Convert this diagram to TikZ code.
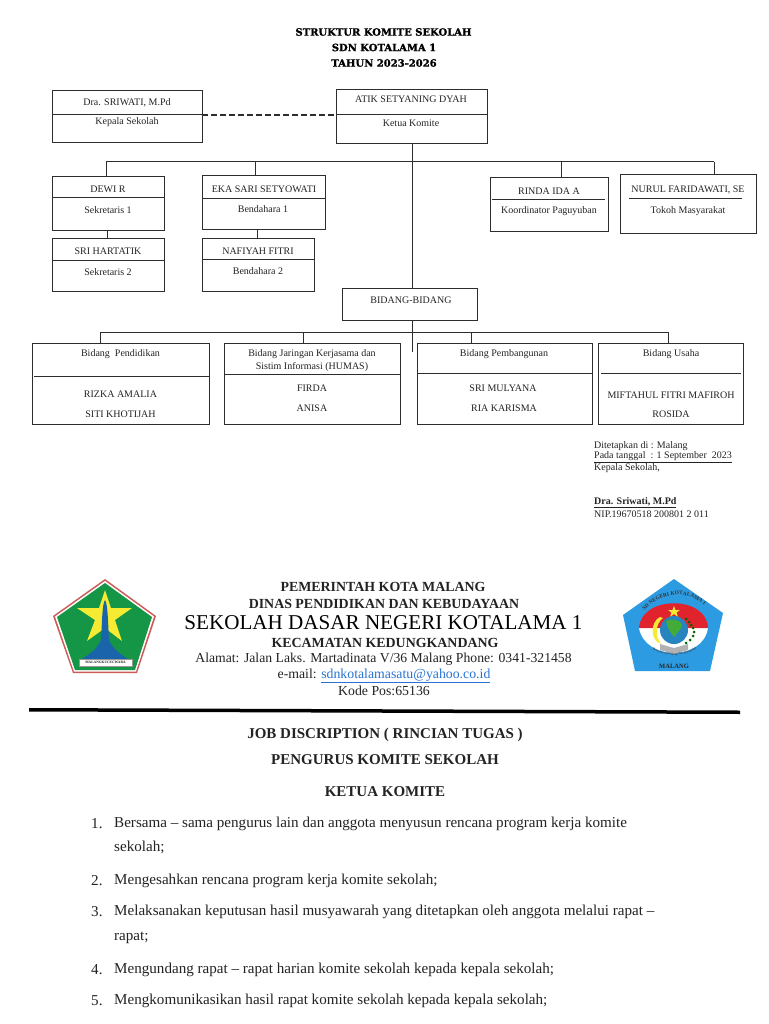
\documentclass[tikz,border=0pt]{standalone}
\usepackage{fontspec}
\setmainfont{Liberation Serif}
\newfontfamily\titlefont[BoldFeatures={FakeBold=1.2}]{DejaVu Serif}
\usetikzlibrary{decorations.text}

\begin{document}
\begin{tikzpicture}[x=1pt,y=-1pt,line cap=butt,line join=miter,
  orgbox/.style={draw=lineGrey,line width=1pt,outer sep=0pt,inner sep=0pt,yshift=-.5pt},
  boxtext/.style={text=inkGrey,font=\fontsize{10}{11}\selectfont,inner sep=0pt,yshift=-1pt},
  headtext/.style={text=inkGrey,font=\fontsize{10}{12}\selectfont,inner sep=0pt,yshift=-1pt},
  signtext/.style={text=inkGrey,font=\fontsize{10}{11}\selectfont,inner sep=0pt,anchor=west},
  listtext/.style={text=inkGrey,font=\fontsize{15.1}{17}\selectfont,inner sep=0pt,anchor=west,yshift=-1.5pt},
  titletext/.style={inner sep=0pt,font=\titlefont\bfseries\fontsize{10}{11}\selectfont},
  wire/.style={draw=lineGrey,line width=1pt}]

\definecolor{lineGrey}{RGB}{45,45,45}
\definecolor{inkGrey}{RGB}{35,35,35}
\definecolor{malangGreen}{RGB}{20,150,70}
\definecolor{malangRed}{RGB}{205,90,85}
\definecolor{malangBlue}{RGB}{25,100,170}
\definecolor{starYellow}{RGB}{245,235,50}
\definecolor{sdBlue}{RGB}{45,155,225}
\definecolor{sdRed}{RGB}{225,35,45}
\definecolor{mailBlue}{RGB}{40,115,210}

\path[use as bounding box,fill=white] (0,0) rectangle (768,1024);

% title
\node[titletext] (title1) at (383.5,32) {STRUKTUR KOMITE SEKOLAH};
\node[titletext] (title2) at (384,47.5) {SDN KOTALAMA 1};
\node[titletext] (title3) at (384,63) {TAHUN 2023-2026};

% top boxes
\node[orgbox,minimum width=150pt,minimum height=52pt] (kepala) at (127,116) {};
\node[orgbox,minimum width=151pt,minimum height=54pt] (ketua) at (411.5,116) {};
\draw[wire] (52,115) -- (202,115);
\draw[wire] (336,115) -- (487,115);
\node[boxtext] (kepalaName) at (127,102) {Dra. SRIWATI, M.Pd};
\node[boxtext] (kepalaRole) at (127,121) {Kepala Sekolah};
\node[boxtext] (ketuaName) at (411,98) {ATIK SETYANING DYAH};
\node[boxtext] (ketuaRole) at (411,122) {Ketua Komite};
\draw[lineGrey,line width=1.6pt,dash pattern=on 6pt off 3pt] (kepala.east |- 0,115) -- (ketua.west |- 0,115);

% second row
\node[orgbox,minimum width=112pt,minimum height=54pt] (dewi) at (108,203) {};
\node[orgbox,minimum width=123pt,minimum height=54pt] (eka) at (263.5,202) {};
\node[orgbox,minimum width=112pt,minimum height=53pt] (hartatik) at (108,264.5) {};
\node[orgbox,minimum width=112pt,minimum height=53pt] (nafiyah) at (258,264.5) {};
\node[orgbox,minimum width=118pt,minimum height=54pt] (rinda) at (549,204) {};
\node[orgbox,minimum width=136pt,minimum height=59pt] (nurul) at (688,203.5) {};
\draw[wire] (52,198) -- (164,198);
\draw[wire] (202,199) -- (325,199);
\draw[wire] (52,260) -- (164,260);
\draw[wire] (202,259) -- (314,259);
\draw[wire] (492,200) -- (605,200);
\draw[wire] (629,199) -- (742,199);
\node[boxtext] (dewiName) at (108,188) {DEWI R};
\node[boxtext] (dewiRole) at (108,209) {Sekretaris 1};
\node[boxtext] (ekaName) at (264,188) {EKA SARI SETYOWATI};
\node[boxtext] (ekaRole) at (263,208) {Bendahara 1};
\node[boxtext] (hartatikName) at (108,250) {SRI HARTATIK};
\node[boxtext] (hartatikRole) at (108,271) {Sekretaris 2};
\node[boxtext] (nafiyahName) at (258,250) {NAFIYAH FITRI};
\node[boxtext] (nafiyahRole) at (258,270) {Bendahara 2};
\node[boxtext] (rindaName) at (549,190) {RINDA IDA A};
\node[boxtext] (rindaRole) at (549,210) {Koordinator Paguyuban};
\node[boxtext] (nurulName) at (688,189) {NURUL FARIDAWATI, SE};
\node[boxtext] (nurulRole) at (688,210) {Tokoh Masyarakat};

% connectors second row
\coordinate (busLeft) at (106,162);
\coordinate (busRight) at (714,162);
\draw[wire] (busLeft) -- (busRight);
\draw[wire] (busLeft) -- (busLeft |- dewi.north);
\draw[wire] (255,162) -- (255,175);
\draw[wire] (561,162) -- (561,177);
\draw[wire] (busRight) -- (busRight |- nurul.north);
\draw[wire] (107,230) -- (107,238);
\draw[wire] (257,229) -- (257,238);

% bidang
\node[orgbox,minimum width=135pt,minimum height=32pt] (bidang) at (409.5,304) {};
\node[boxtext] (bidangName) at (411,299) {BIDANG-BIDANG};
\draw[wire] (412,143) -- (412,288);
\coordinate (stemEnd) at (412,352);
\draw[wire] (412,320) -- (stemEnd);

% field boxes
\node[orgbox,minimum width=177pt,minimum height=81pt] (pendidikan) at (120.5,383.5) {};
\node[orgbox,minimum width=176pt,minimum height=81pt] (jaringan) at (312,383.5) {};
\node[orgbox,minimum width=175pt,minimum height=81pt] (pembangunan) at (504.5,383.5) {};
\node[orgbox,minimum width=145pt,minimum height=81pt] (usaha) at (670.5,383.5) {};
\draw[wire] (34,376) -- (209,376);
\draw[wire] (224,374) -- (400,374);
\draw[wire] (417,373) -- (592,373);
\draw[wire] (601,373) -- (741,373);
\node[boxtext] (pendidikanHead) at (120.5,353) {Bidang \ Pendidikan};
\node[boxtext] (rizka) at (120.5,393) {RIZKA AMALIA};
\node[boxtext] (siti) at (120.5,413) {SITI KHOTIJAH};
\node[boxtext] (jaringanHead) at (312,353) {Bidang Jaringan Kerjasama dan};
\node[boxtext] (jaringanHeadB) at (312,366.5) {Sistim Informasi (HUMAS)};
\node[boxtext] (firda) at (312,387) {FIRDA};
\node[boxtext] (anisa) at (312,407) {ANISA};
\node[boxtext] (pembangunanHead) at (504,353) {Bidang Pembangunan};
\node[boxtext] (mulyana) at (503,387) {SRI MULYANA};
\node[boxtext] (karisma) at (504,407) {RIA KARISMA};
\node[boxtext] (usahaHead) at (671,353) {Bidang Usaha};
\node[boxtext] (miftahul) at (671,394) {MIFTAHUL FITRI MAFIROH};
\node[boxtext] (rosida) at (671,413) {ROSIDA};

% connectors field row
\coordinate (fieldLeft) at (100,332);
\coordinate (fieldRight) at (668,332);
\draw[wire] (fieldLeft) -- (fieldRight);
\draw[wire] (fieldLeft) -- (fieldLeft |- pendidikan.north);
\draw[wire] (303,332) -- (303,343);
\draw[wire] (471,332) -- (471,343);
\draw[wire] (fieldRight) -- (fieldRight |- usaha.north);

% signature
\node[signtext] (signPlace) at (594,446) {Ditetapkan di : Malang};
\node[signtext] (signDate) at (594,457) {\underline{Pada tanggal \ : 1 September \ 2023}};
\node[signtext] (signRole) at (594,468) {Kepala Sekolah,};
\node[signtext] (signName) at (594,503) {\underline{\textbf{Dra. Sriwati, M.Pd}}};
\node[signtext] (signNip) at (594,514) {NIP.19670518 200801 2 011};

% left logo
\fill[malangRed] (105,579) -- (156,616) -- (137,673) -- (73,673) -- (53,616) -- cycle;
\fill[white] (105,581) -- (154,616.5) -- (136,671.5) -- (74,671.5) -- (55,616.5) -- cycle;
\fill[malangGreen] (105,583) -- (152,617) -- (135,670) -- (75,670) -- (57,617) -- cycle;
\fill[starYellow] (105,590) -- (111,608) -- (132,608) -- (115,620) -- (122,641)
  -- (105,628) -- (87,641) -- (95,620) -- (77,608) -- (99,608) -- cycle;
\fill[malangBlue] (105,600) .. controls (108,604) and (108,625) .. (109,640)
  .. controls (112,648) and (120,654) .. (128,659) -- (82,659)
  .. controls (90,654) and (98,648) .. (101,640) .. controls (102,625) and (102,604) .. (105,600) -- cycle;
\fill[white,draw=lineGrey!50,line width=.3pt] (79,659) rectangle (132,666);
\node[inner sep=0pt,text=inkGrey,font=\bfseries\fontsize{3.6}{4}\selectfont] (logoBanner) at (105.5,662.5) {MALANGKUCECWARA};

% right logo
\fill[sdBlue] (674,579) -- (723,613) -- (710,671) -- (635,671) -- (623,615) -- cycle;
\fill[white] (639,628) .. controls (645,661) and (703,661) .. (708,628) -- cycle;
\fill[sdRed] (639,628) .. controls (641,595) and (707,595) .. (708,628) -- cycle;
\fill[starYellow] (674,606) -- (675.5,610) -- (680,610) -- (676.5,612.5) -- (678,617)
  -- (674,614) -- (670,617) -- (671.5,612.5) -- (668,610) -- (672.5,610) -- cycle;
\fill[starYellow] (660,617) .. controls (651,621) and (649,640) .. (661,644)
  .. controls (655,636) and (655,624) .. (663,618) -- cycle;
\foreach \bx/\by in {686/619,689/622,691/625,693/628,694/632,693/636,690/640,686/643}
  \fill[black!60!green] (\bx,\by) circle (1.5);
\fill[sdBlue!85!black] (674,630) circle (14);
\fill[malangGreen!80!yellow] (666,621) .. controls (672,618) and (681,620) .. (682,625)
  .. controls (681,631) and (676,632) .. (675,637) .. controls (671,634) and (668,630) .. (666,621) -- cycle;
\fill[black!30] (660,644) -- (674,648) -- (688,644) -- (688,650) -- (674,654) -- (660,650) -- cycle;
\path[decorate,decoration={text along path,text align=center,
  text={|\bfseries\fontsize{5.4}{7}\selectfont\color{black!80}|SD NEGERI KOTALAMA 1}}]
  (638,622) .. controls (652,588) and (698,586) .. (712,616);
\path[decorate,decoration={text along path,text align=center,
  text={|\fontsize{3.4}{4}\selectfont\color{black!80}|Bersama Gemilang dan Berakhlak}}]
  (645,641) .. controls (655,660) and (695,660) .. (704,640);
\node[inner sep=0pt,text=black!85,font=\bfseries\fontsize{6.5}{8}\selectfont] (logoMalang) at (674,666) {MALANG};

% letterhead
\node[headtext,font=\bfseries\fontsize{13.9}{15}\selectfont] (headA) at (383,586) {PEMERINTAH KOTA MALANG};
\node[headtext,font=\bfseries\fontsize{13.9}{15}\selectfont] (headB) at (384,603) {DINAS PENDIDIKAN DAN KEBUDAYAAN};
\node[headtext,font=\fontsize{21.1}{23}\selectfont,text=black] (headC) at (383.5,622) {SEKOLAH DASAR NEGERI KOTALAMA 1};
\node[headtext,font=\bfseries\fontsize{13.9}{15}\selectfont] (headD) at (385,642) {KECAMATAN KEDUNGKANDANG};
\node[headtext,font=\fontsize{13.7}{15}\selectfont] (headE) at (383.5,658) {Alamat: Jalan Laks. Martadinata V/36 Malang Phone: 0341-321458};
\node[headtext,font=\fontsize{13.8}{15}\selectfont] (headF) at (384,675) {e-mail: \textcolor{mailBlue}{\underline{sdnkotalamasatu@yahoo.co.id}}};
\node[headtext,font=\fontsize{13.8}{15}\selectfont] (headG) at (384,690) {Kode Pos:65136};

% rule
\fill[black] (29,708) -- (740,710.5) -- (740,714) -- (29,711.5) -- cycle;

% job description
\node[headtext,font=\bfseries\fontsize{15}{17}\selectfont] (jobA) at (385,734) {JOB DISCRIPTION ( RINCIAN TUGAS )};
\node[headtext,font=\bfseries\fontsize{15}{17}\selectfont] (jobB) at (385,759) {PENGURUS KOMITE SEKOLAH};
\node[headtext,font=\bfseries\fontsize{15}{17}\selectfont] (jobC) at (385,791) {KETUA KOMITE};

% list
\foreach \num/\ny in {1/822,2/879,3/910,4/968,5/999}
  \node[listtext,anchor=west] (num\num) at (91,\ny) {\num.};
\node[listtext] (itemA) at (114,822) {Bersama – sama pengurus lain dan anggota menyusun rencana program kerja komite};
\node[listtext] (itemAb) at (114,846) {sekolah;};
\node[listtext] (itemB) at (114,879) {Mengesahkan rencana program kerja komite sekolah;};
\node[listtext] (itemC) at (114,910) {Melaksanakan keputusan hasil musyawarah yang ditetapkan oleh anggota melalui rapat –};
\node[listtext] (itemCb) at (114,936) {rapat;};
\node[listtext] (itemD) at (114,968) {Mengundang rapat – rapat harian komite sekolah kepada kepala sekolah;};
\node[listtext] (itemE) at (114,999) {Mengkomunikasikan hasil rapat komite sekolah kepada kepala sekolah;};

\end{tikzpicture}
\end{document}
